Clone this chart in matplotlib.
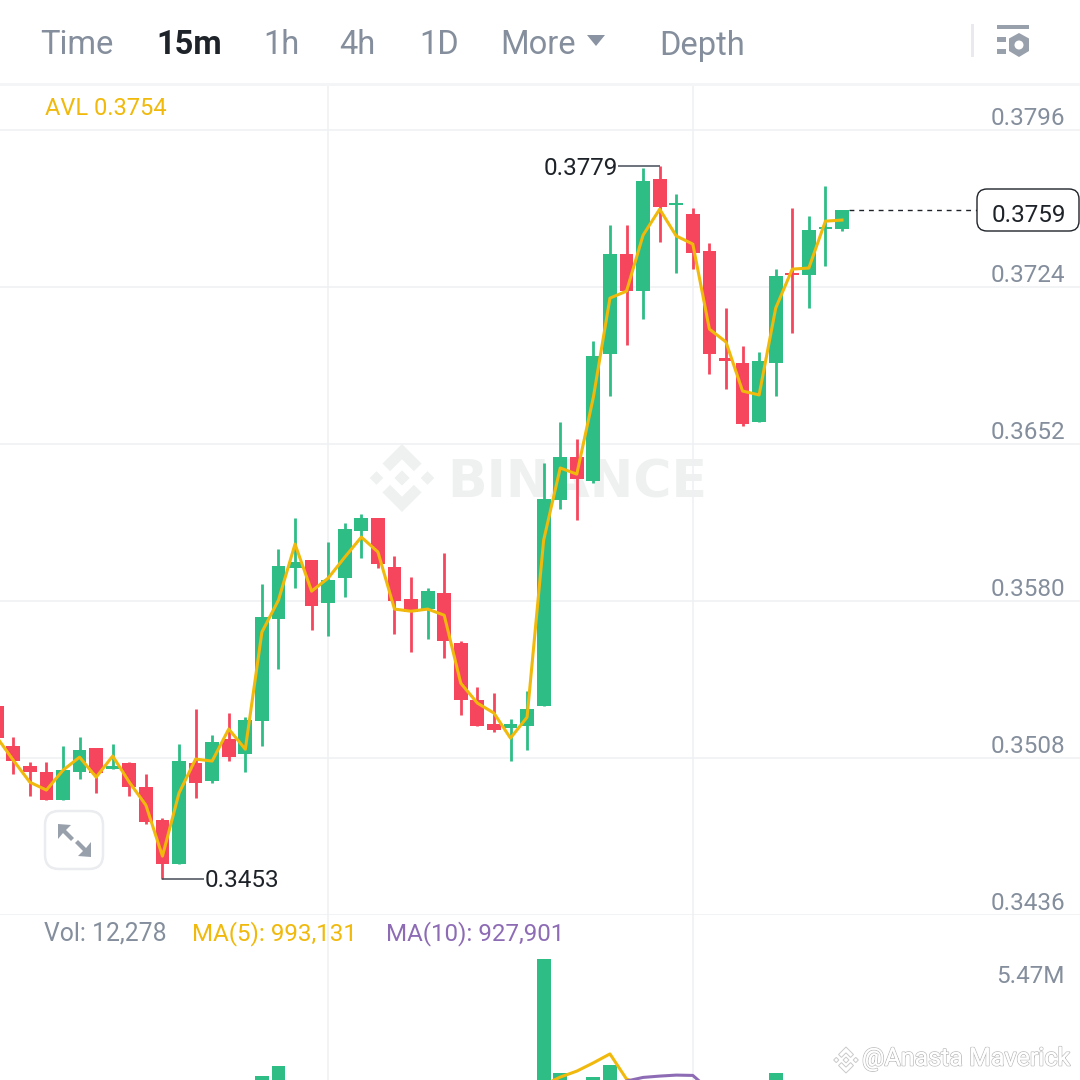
import matplotlib
matplotlib.use("Agg")
import matplotlib.pyplot as plt
from matplotlib.patches import Polygon, FancyBboxPatch, Rectangle, Circle
import matplotlib.patheffects as pe

plt.rcParams['font.family'] = ['Roboto', 'DejaVu Sans']

opens = [.35318,.35134,.35043,.35015,.34887,.35015,.35125,.35029,.35056,.34947,.34795,.34594,.35056,.34974,.35166,.35098,.35250,.35717,.35952,.35988,.3579,.35905,.3612,.3618,.35956,.35809,.35763,.35836,.35607,.35346,.35236,.35218,.35227,.35318,.36263,.3646,.3635,.36933,.37391,.37221,.37735,.37616,.37575,.37405,.36914,.36891,.3662,.36891,.37304,.37295,.37506,.37506]
closes = [.35171,.35066,.35015,.34887,.35024,.35116,.3501,.35043,.34947,.34786,.34594,.35066,.34965,.35153,.35084,.35254,.35726,.35961,.35979,.35776,.35896,.3613,.3618,.35969,.358,.35749,.35845,.35616,.35346,.35227,.35208,.35236,.35305,.36268,.3646,.36359,.36923,.37391,.37221,.37726,.37607,.37625,.37396,.36933,.369,.36611,.369,.3729,.37295,.37501,.37515,.37593]
highs = [.35318,.35176,.35061,.35061,.35134,.35176,.35125,.35143,.35061,.35006,.34804,.35143,.35305,.35185,.35286,.35268,.35877,.36039,.3618,.35988,.36071,.36157,.36199,.3618,.36007,.3591,.35859,.3602,.35616,.35406,.35377,.35259,.35387,.36432,.36621,.36543,.36992,.37524,.37524,.37786,.37795,.37666,.37602,.37442,.37144,.36969,.36942,.37322,.37602,.37565,.37703,.37593]
lows = [.35171,.35006,.34905,.34887,.34887,.34983,.34919,.35029,.34905,.34777,.34525,.34594,.34896,.34965,.35066,.35015,.35134,.35488,.35859,.35666,.35639,.35818,.35996,.35951,.35648,.35566,.35625,.35538,.35277,.35227,.35199,.35066,.35116,.35318,.36222,.36171,.36341,.3674,.36974,.37093,.37446,.37304,.37322,.36841,.36772,.36602,.3662,.36739,.3703,.37143,.37336,.37497]
avl_line = [.35176,.3507,.34969,.34933,.35024,.35084,.34992,.35089,.34969,.34864,.3463,.34919,.35075,.35066,.35213,.3512,.35657,.35804,.36061,.35845,.35905,.36001,.36093,.36025,.35763,.35753,.35763,.35735,.35423,.35332,.35286,.35171,.35267,.36079,.3641,.36382,.36735,.37189,.37221,.37478,.37597,.37474,.37437,.37047,.36988,.36763,.36745,.37143,.37322,.37327,.37542,.37547]

price_ticks = [0.3796, 0.3724, 0.3652, 0.3580, 0.3508, 0.3436]
time_grid = [20, 42]

vol_index = [16, 17, 33, 34, 36, 37, 47]
vol_values = [1.94, 2.22, 5.47, 2.02, 1.91, 2.28, 2.03]
ma5_index = [33, 34, 35, 36, 37, 38, 39]
ma5_values = [1.66, 1.90, 2.08, 2.33, 2.60, 1.84, 1.66]
ma10_index = [38, 39, 40, 41, 42, 43]
ma10_values = [1.78, 1.89, 1.93, 1.96, 1.95, 1.51]

header_labels = ["Time", "15m", "1h", "4h", "1D", "More", "Depth"]
header_x = [40, 156, 263, 339, 419, 500, 659]

GREEN, RED, YEL, PUR = '#2ebd85', '#f6465d', '#f0b90b', '#8d6cb5'
GREY, DARK, GRID = '#848e9c', '#1e2329', '#eef0f3'
XL = (0.199, 65.36)
PX = 16.574

fig = plt.figure(figsize=(10.8, 10.8), dpi=100, facecolor='white')

def pane(top, bottom, z):
    a = fig.add_axes([0, 1 - bottom / 1080, 1, (bottom - top) / 1080], zorder=z)
    a.patch.set_alpha(0)
    return a

bg = fig.add_axes([0, 0, 1, 1], zorder=0)
bg.set_xlim(0, 1080); bg.set_ylim(1080, 0); bg.axis('off')
ax = pane(84, 915, 2)
vx = pane(915, 1080, 2)
ov = fig.add_axes([0, 0, 1, 1], zorder=3)
ov.set_xlim(0, 1080); ov.set_ylim(1080, 0); ov.axis('off'); ov.patch.set_alpha(0)

# price pane
ax.set_xlim(*XL); ax.set_ylim(0.34360, 0.38171)
ax.axis('off')
for p in price_ticks:
    ax.axhline(p, color=GRID, lw=1.1, zorder=1)
    ax.annotate(f"{p:.4f}", (1065, p), xycoords=('figure pixels', 'data'),
                xytext=(0, 8.3), textcoords='offset points', ha='right', va='center',
                fontsize=17.5, color=GREY, annotation_clip=False)
for t in time_grid:
    ax.axvline(t, color=GRID, lw=1.1, zorder=1)
idx = list(range(len(opens)))
for i in idx:
    c = GREEN if closes[i] >= opens[i] else RED
    ax.vlines(i, lows[i], highs[i], color=c, lw=2.0, zorder=3)
    ax.bar(i, abs(closes[i] - opens[i]), bottom=min(opens[i], closes[i]),
           width=0.83, color=c, zorder=3)
ax.plot(idx, avl_line, color=YEL, lw=2.2, zorder=4)

# extreme markers and last price
hi = highs.index(max(highs)); lo = lows.index(min(lows))
ax.hlines(highs[hi], hi - 42 / PX, hi, color='#474d57', lw=1.1, zorder=5)
ax.hlines(lows[lo], lo, lo + 42 / PX, color='#474d57', lw=1.1, zorder=5)
ax.annotate("0.3779", (hi, highs[hi]), xytext=(-42 * .72, -2), textcoords='offset points',
            ha='right', va='center', fontsize=17.5, color=DARK, zorder=5)
ax.annotate("0.3453", (lo, lows[lo]), xytext=(42 * .72, -1), textcoords='offset points',
            ha='left', va='center', fontsize=17.5, color=DARK, zorder=5)
last = closes[-1]
ax.hlines(last, idx[-1] + 0.42, (977 + 3.3) / PX, color=DARK, lw=1.0,
          linestyles=(0, (3.5, 3.5)), zorder=3)

# volume pane
vx.set_xlim(*XL); vx.set_ylim(1.812, 6.795); vx.axis('off')
vx.axvline(time_grid[0], color=GRID, lw=1.1, zorder=1)
vx.axvline(time_grid[1], color=GRID, lw=1.1, zorder=1)
vx.bar(vol_index, vol_values, width=0.83, color=GREEN, zorder=3)
vx.plot(ma5_index, ma5_values, color=YEL, lw=2.2, zorder=4)
vx.plot(ma10_index, ma10_values, color=PUR, lw=2.2, zorder=4)

def T(x, y, s, size=17.5, color=GREY, ha='left', weight='normal', a=ov, **k):
    return a.text(x, y + 1.5, s, fontsize=size, color=color, ha=ha, va='center', fontweight=weight, **k)

# header
for s, x in zip(header_labels, header_x):
    b = s == "15m"
    T(x, 44, s, size=23.5, color=DARK if b else GREY, weight='bold' if b else 'normal')
ov.add_patch(Polygon([(587, 35), (605, 35), (596, 46)], color='#8a93a2', lw=0))
ov.add_patch(Rectangle((0, 82.5), 1080, 3, color='#f4f5f6', lw=0))
ov.add_patch(Rectangle((971, 24), 2.5, 33, color='#e8eaed', lw=0))
# settings icon
ig = '#98a0ac'
ov.add_patch(Rectangle((997, 24.5), 32, 4.5, color=ig, lw=0))
ov.add_patch(Rectangle((997, 37), 9, 5, color=ig, lw=0))
ov.add_patch(Rectangle((997, 49), 9, 5, color=ig, lw=0))
ov.add_patch(Polygon([(1019, 33), (1029, 38.5), (1029, 51), (1019, 57), (1009, 51), (1009, 38.5)], color=ig, lw=0))
ov.add_patch(Circle((1019, 45), 4.5, color='white', lw=0))

T(45, 107, "AVL 0.3754", color=YEL, size=17)
T(44, 932, "Vol: 12,278", size=17.8)
T(192, 932, "MA(5): 993,131", color=YEL, size=17.4)
T(386, 932, "MA(10): 927,901", color=PUR, size=17.4)
T(1065, 975, "5.47M", ha='right')

# last price tag
ov.add_patch(FancyBboxPatch((985, 197), 86, 26, boxstyle="round,pad=8,rounding_size=10",
                            fc='white', ec=DARK, lw=1.0))
T(992, 214, "0.3759", color=DARK)

# expand button
ov.add_patch(FancyBboxPatch((55, 821), 38, 38, boxstyle="round,pad=10,rounding_size=14",
                            fc='white', ec='#eaecef', lw=1.8))
arrow = [(58, 824), (71, 825), (66, 830), (74, 838), (71, 841), (63, 833), (58, 839)]
ov.add_patch(Polygon(arrow, color=ig, lw=0))
ov.add_patch(Polygon([(149 - x, 1681 - y) for x, y in arrow], color=ig, lw=0))

# background watermark
def logo(a, cx, cy, r, **kw):
    u = r / 4
    def d(x, y, h):
        a.add_patch(Polygon([(x, y - h), (x + h, y), (x, y + h), (x - h, y)], **kw))
    d(cx, cy, u * .9); d(cx - 3 * u, cy, u * .8); d(cx + 3 * u, cy, u * .8)
    for s in (-1, 1):
        a.add_patch(Polygon([(cx, cy + s * r), (cx + 2.3 * u, cy + s * 1.7 * u), (cx + 1.4 * u, cy + s * .8 * u),
                             (cx, cy + s * 2.2 * u), (cx - 1.4 * u, cy + s * .8 * u), (cx - 2.3 * u, cy + s * 1.7 * u)], **kw))

wm = '#eff1f1'
logo(bg, 402, 478, 34, color=wm, lw=0)
bg.text(447, 483, "BINANCE", fontsize=37.5, color=wm, fontweight='bold', va='center', ha='left',
        family='DejaVu Sans')

# corner watermark
logo(ov, 846, 1060, 13, fc='white', ec='#c9c9c9', lw=0.7)
txt = T(862, 1057, "@Anasta Maverick", size=18, color='white')
txt.set_path_effects([pe.withStroke(linewidth=1.2, foreground='#bdbdbd'), pe.Normal()])

fig.savefig("out.png", dpi=100)
